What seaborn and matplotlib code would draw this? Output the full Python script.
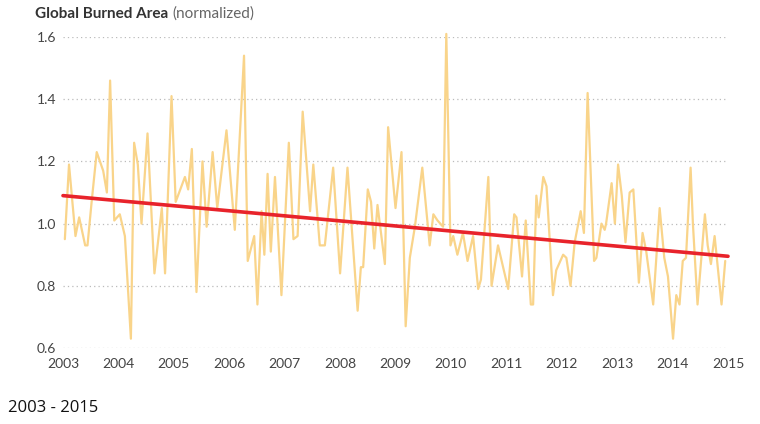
import numpy as np
import pandas as pd
import matplotlib
matplotlib.use("Agg")
import matplotlib.pyplot as plt
import seaborn as sns

# months since Jan 2003 where the curve turns, and its value there
months = [0.4, 1.3, 2.7, 3.5, 4.8, 5.3, 6.2, 7.3, 8.7, 9.5, 10.2, 11.1,
          12.3, 13.4, 14.7, 15.4, 16.2, 17.0, 18.3, 19.8, 21.4, 22.1, 23.5,
          24.4, 26.4, 27.1, 27.9, 28.9, 30.2, 31.1, 32.4, 33.4, 35.4,
          37.2, 39.2, 40.0, 41.4, 42.1, 43.0, 43.6, 44.3, 45.0, 45.9, 47.3,
          48.9, 49.9, 50.8, 51.9, 53.5, 54.2, 55.6, 56.7, 58.5,
          60.0, 61.6, 63.8, 64.5, 65.0, 66.0, 66.7, 67.4, 68.1, 69.7, 70.4,
          72.0, 73.3, 74.2, 75.1, 76.2, 77.8, 79.4, 80.2, 81.1, 82.3, 83.0,
          83.9, 84.5, 85.4, 86.6, 87.6, 88.8, 89.9, 90.5, 92.1, 92.8, 94.2,
          96.4, 97.7, 98.2, 99.4, 100.2, 101.3, 101.8, 102.5, 103.0, 104.0,
          104.7, 106.1, 106.8, 108.3, 109.0, 109.9, 110.8, 112.1, 112.8,
          113.6, 115.0, 115.5, 116.6, 117.3, 117.6, 118.8, 119.5,
          120.2, 121.0, 121.8, 122.7, 123.5, 124.7, 125.5, 126.3, 127.8,
          129.2, 130.2, 131.0, 132.1, 132.8, 133.5, 134.2, 134.9, 135.9,
          136.4, 137.4, 139.0, 139.6, 140.3, 141.1, 142.6, 143.4]
burned = [0.95, 1.19, 0.96, 1.02, 0.93, 0.93, 1.07, 1.23, 1.17, 1.10, 1.46, 1.01,
          1.03, 0.96, 0.63, 1.26, 1.19, 1.00, 1.29, 0.84, 1.05, 0.84, 1.41,
          1.07, 1.15, 1.11, 1.24, 0.78, 1.20, 0.99, 1.23, 1.05, 1.30,
          0.98, 1.54, 0.88, 0.96, 0.74, 1.04, 0.90, 1.16, 0.91, 1.15, 0.77,
          1.26, 0.95, 0.96, 1.36, 1.04, 1.19, 0.93, 0.93, 1.18,
          0.84, 1.18, 0.72, 0.86, 0.86, 1.11, 1.07, 0.92, 1.06, 0.87, 1.31,
          1.05, 1.23, 0.67, 0.89, 0.99, 1.18, 0.93, 1.03, 1.01, 0.99, 1.61,
          0.93, 0.96, 0.90, 0.97, 0.88, 0.96, 0.79, 0.82, 1.15, 0.80, 0.93,
          0.79, 1.03, 1.02, 0.83, 1.01, 0.74, 0.74, 1.09, 1.02, 1.15,
          1.12, 0.77, 0.85, 0.90, 0.89, 0.80, 0.94, 1.04, 0.97,
          1.42, 0.88, 0.89, 1.00, 0.98, 1.00, 1.13, 1.00,
          1.19, 1.09, 0.94, 1.10, 1.11, 0.81, 0.97, 0.91, 0.74,
          1.05, 0.89, 0.83, 0.63, 0.77, 0.74, 0.88, 0.89, 1.18,
          1.00, 0.74, 1.03, 0.93, 0.87, 0.96, 0.74, 0.88]

trend_years = [2003, 2015]
trend_values = [1.09, 0.895]

year_ticks = list(range(2003, 2016))
value_ticks = [0.6, 0.8, 1.0, 1.2, 1.4, 1.6]
value_labels = ["0.6", "0.8", "1.0", "1.2", "1.4", "1.6"]

sns.set_style("white")
plt.rcParams['font.family'] = ['Lato', 'DejaVu Sans']

df = pd.DataFrame({"year": 2003 + np.array(months) / 12, "area": burned})
tr = pd.DataFrame({"year": trend_years, "area": trend_values})

fig = plt.figure(figsize=(7.6, 4.24), dpi=100)
ax = fig.add_axes([0.0829, 0.1792, 0.875, 0.7335])

sns.lineplot(data=df, x="year", y="area", ax=ax, color="#F9D48A", lw=1.6,
             clip_on=False, zorder=3)
sns.lineplot(data=tr, x="year", y="area", ax=ax, color="#E8232B", lw=2.6,
             clip_on=False, zorder=4)

ax.set_xlim(2003, 2015)
ax.set_ylim(0.6, 1.6)
ax.set_xticks(year_ticks)
ax.set_xticklabels([str(y) for y in year_ticks])
ax.set_yticks(value_ticks)
ax.set_yticklabels(value_labels)
ax.grid(axis="y", ls=(0, (1, 2.5)), color="#bbbbbb", lw=0.9)
ax.grid(axis="x", visible=False)
sns.despine(ax=ax, left=True, bottom=True)
ax.tick_params(axis="both", length=3, width=0.8, color="#aaaaaa",
               labelcolor="#444444", labelsize=10, pad=2)
ax.tick_params(axis="x", pad=4)
ax.set_xlabel("")
ax.set_ylabel("")

t1 = fig.text(35 / 760, 1 - 14 / 424, "Global Burned Area", fontsize=11,
              fontweight="bold", color="#333333", va="center", ha="left")
fig.canvas.draw()
bb = t1.get_window_extent()
fig.text(bb.x1 / 760 + 0.005, 1 - 14 / 424, "(normalized)", fontsize=11,
         color="#666666", va="center", ha="left")

fig.text(8 / 760, 1 - 408 / 424, "2003 - 2015", fontsize=12, color="#111111",
         va="center", ha="left", family=["Open Sans", "DejaVu Sans"])

fig.savefig("out.png", dpi=100)
